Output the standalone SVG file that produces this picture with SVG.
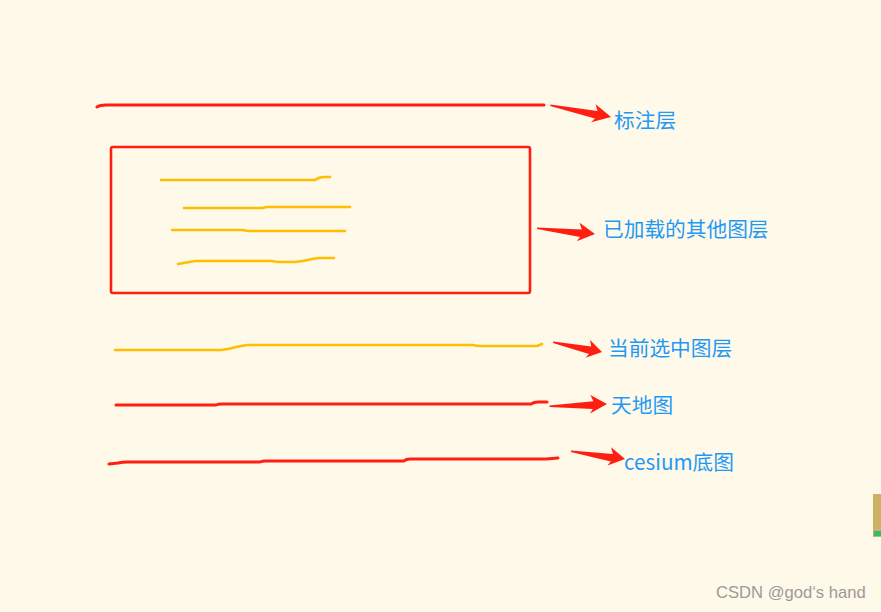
<svg xmlns="http://www.w3.org/2000/svg" width="881" height="612" viewBox="0 0 881 612">
<style>
.r{fill:none;stroke:#ff1f12;stroke-width:3;stroke-linecap:round;stroke-linejoin:round}
.y{fill:none;stroke:#ffbf00;stroke-width:2.6;stroke-linecap:round;stroke-linejoin:round}
.a{fill:#ff1f12}
.t{font-family:"Noto Sans CJK SC","Noto Sans",sans-serif;font-size:20.7px;fill:#1e9af6}
.w{font-family:"Liberation Sans",Arial,sans-serif;font-size:16.6px;fill:#9a9a9a}
</style>
<defs>
<path id="arr" d="M0,0 L-17,-9.5 L-14,-3.2 L-60,-0.6 L-60,1 L-15,4.5 L-18,9 Z"/>
</defs>
<rect width="881" height="612" fill="#fef9e8"/>
<g id="connectors">
<use href="#arr" class="a" transform="translate(611,117) rotate(11.1) scale(1.03,1)"/>
<use href="#arr" class="a" transform="translate(595,234) rotate(5.9) scale(0.97,1)"/>
<use href="#arr" class="a" transform="translate(602,352) rotate(11.5) scale(0.83,1)"/>
<use href="#arr" class="a" transform="translate(607,404) rotate(-2) scale(0.96,1)"/>
<use href="#arr" class="a" transform="translate(625,459) rotate(8.4) scale(0.91,1)"/>
</g>
<g id="annotation-layer">
<path class="r" d="M97,107 Q100,105 106,105 L544,105"/>
<text class="t" x="614" y="128">标注层</text>
</g>
<g id="loaded-layers">
<rect x="111" y="147" width="419" height="146" rx="2" fill="none" stroke="#ff1f12" stroke-width="2.6"/>
<path class="y" d="M161,180 L315,180 Q319,177 324,177 L330,177"/>
<path class="y" d="M184,208 L263,208 Q265,207 268,207 L350,207"/>
<path class="y" d="M172,230 L243,230 Q246,231 250,231 L345,231"/>
<path class="y" d="M178,264 L195,261 L272,261 Q276,262 280,262 L295,262 Q305,261 312,259 L318,258 L334,258"/>
<text class="t" x="603" y="237">已加载的其他图层</text>
</g>
<g id="selected-layer">
<path class="y" d="M115,350 L221,350 Q230,349 236,347 L247,345 L473,345 Q476,346 480,346 L537,346 L542,344"/>
<text class="t" x="608" y="356">当前选中图层</text>
</g>
<g id="tianditu">
<path class="r" d="M116,405 L216,405 Q218,404 222,404 L531,404 Q534,402 538,402 L547,402"/>
<text class="t" x="611" y="413">天地图</text>
</g>
<g id="cesium-base">
<path class="r" d="M109,464 L118,463 Q122,462 128,462 L260,462 Q262,461 266,461 L404,461 Q406,459 410,459 L545,459 M546,459 L558,458"/>
<text class="t" x="624" y="470">cesium底图</text>
</g>
<rect x="873" y="494" width="8" height="43" fill="#cdb266"/>
<rect x="874" y="531" width="7" height="5" fill="#2dbd6c"/>
<text class="w" x="716" y="598">CSDN @god‘s hand</text>
</svg>
